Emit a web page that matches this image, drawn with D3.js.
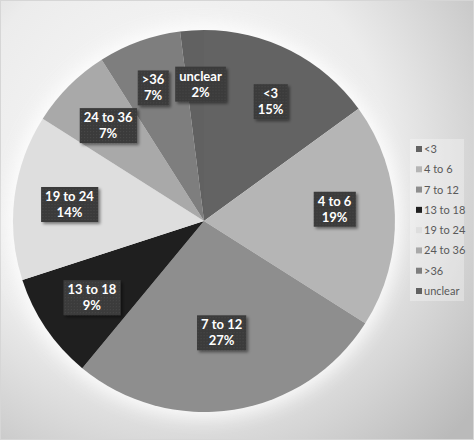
<!DOCTYPE html>
<html>
<head>
<meta charset="utf-8">
<script src="https://cdn.jsdelivr.net/npm/d3@7"></script>
<style>
  body { margin: 0; background: #fff; }
  svg { display: block; }
</style>
</head>
<body>
<svg id="chart"></svg>
<script>
// age groups (months) and their share in %
const categories = ["<3", "4 to 6", "7 to 12", "13 to 18", "19 to 24", "24 to 36", ">36", "unclear"];
const percents = [15, 19, 27, 9, 14, 7, 7, 2];
const sliceColors = ["#636363", "#b5b5b5", "#8e8e8e", "#1f1f1f", "#dedede", "#a9a9a9", "#7e7e7e", "#616161"];

const width = 474, height = 440;
const cx = 204, cy = 221, radius = 191;

const svg = d3.select("#chart")
  .attr("width", width)
  .attr("height", height);

const defs = svg.append("defs");

// background: light in the upper left, greyer towards the corners
const bg = defs.append("radialGradient")
  .attr("id", "bg")
  .attr("gradientUnits", "userSpaceOnUse")
  .attr("cx", 175).attr("cy", 160).attr("r", 390);
bg.append("stop").attr("offset", 0).attr("stop-color", "#fbfbfb");
bg.append("stop").attr("offset", 0.55).attr("stop-color", "#ececec");
bg.append("stop").attr("offset", 1).attr("stop-color", "#bababa");

const glow = defs.append("filter").attr("id", "glow")
  .attr("x", "-20%").attr("y", "-20%").attr("width", "140%").attr("height", "140%");
glow.append("feGaussianBlur").attr("stdDeviation", 9);

const shadow = defs.append("filter").attr("id", "shadow")
  .attr("x", "-30%").attr("y", "-30%").attr("width", "160%").attr("height", "160%");
shadow.append("feDropShadow")
  .attr("dx", 2).attr("dy", 2).attr("stdDeviation", 1.5)
  .attr("flood-color", "#000").attr("flood-opacity", 0.45);

// dotted texture used by the data label boxes
const dots = defs.append("pattern")
  .attr("id", "dots")
  .attr("patternUnits", "userSpaceOnUse")
  .attr("width", 3).attr("height", 3);
dots.append("rect").attr("width", 3).attr("height", 3).attr("fill", "#3b3b3b");
dots.append("rect").attr("width", 1).attr("height", 1).attr("fill", "#4a4a4a");

svg.append("rect")
  .attr("width", width).attr("height", height)
  .attr("fill", "url(#bg)");

svg.append("rect")
  .attr("x", 0.5).attr("y", 0.5)
  .attr("width", width - 1).attr("height", height - 1)
  .attr("fill", "none").attr("stroke", "#d6d6d6");

const g = svg.append("g").attr("transform", `translate(${cx},${cy})`);

// soft white halo behind the pie
g.append("circle")
  .attr("r", radius + 6)
  .attr("fill", "#fff")
  .attr("opacity", 0.85)
  .attr("filter", "url(#glow)");

const data = categories.map((c, i) => ({ name: c, value: percents[i] }));

const color = d3.scaleOrdinal()
  .domain(categories)
  .range(sliceColors);

const pie = d3.pie()
  .value(d => d.value)
  .sort(null);

const arc = d3.arc()
  .innerRadius(0)
  .outerRadius(radius);

const arcs = pie(data);

g.selectAll(".slice")
  .data(arcs)
  .enter().append("path")
  .attr("class", "slice")
  .attr("d", arc)
  .attr("fill", d => color(d.data.name));

// Excel "best fit" puts the big slice label a bit closer to the centre
// and pushes the two small top labels apart
const labelNudge = {
  "<3": [5, 1],
  "4 to 6": [-5, -8],
  ">36": [-5, -6],
  "unclear": [5, -2]
};
const labelPos = d => {
  const r = d.data.name === "7 to 12" ? radius * 0.59 : radius * 0.71;
  const [x, y] = d3.arc().innerRadius(r).outerRadius(r).centroid(d);
  const n = labelNudge[d.data.name] || [0, 0];
  return [x + n[0], y + n[1]];
};

const labels = g.selectAll(".label")
  .data(arcs)
  .enter().append("g")
  .attr("class", "label")
  .attr("transform", d => `translate(${labelPos(d)})`);

labels.each(function(d) {
  const lg = d3.select(this);
  const text = lg.append("text")
    .attr("text-anchor", "middle")
    .attr("font-family", "Lato, 'Open Sans', sans-serif")
    .attr("font-weight", "bold")
    .attr("font-size", 13)
    .attr("fill", "#fff");
  text.append("tspan").attr("x", 0).attr("y", -3).text(d.data.name);
  text.append("tspan").attr("x", 0).attr("y", 13).text(d.data.value + "%");
  const bb = text.node().getBBox();
  lg.insert("rect", "text")
    .attr("x", bb.x - 4)
    .attr("y", -17)
    .attr("width", bb.width + 8)
    .attr("height", 35)
    .attr("fill", "url(#dots)")
    .attr("filter", "url(#shadow)");
});

// legend
const legendY = d3.scalePoint()
  .domain(categories)
  .range([149, 291]);

const legend = svg.append("g");

legend.append("rect")
  .attr("x", 410).attr("y", 139)
  .attr("width", 54).attr("height", 162)
  .attr("fill", "#fff").attr("opacity", 0.3);

const items = legend.selectAll(".item")
  .data(categories)
  .enter().append("g")
  .attr("class", "item")
  .attr("transform", d => `translate(416,${legendY(d)})`);

items.append("rect")
  .attr("x", 0).attr("y", -3)
  .attr("width", 6).attr("height", 6)
  .attr("fill", d => color(d));

items.append("text")
  .attr("x", 8)
  .attr("y", 4)
  .attr("font-family", "Lato, 'Open Sans', sans-serif")
  .attr("font-size", 11)
  .attr("fill", "#595959")
  .text(d => d);
</script>
</body>
</html>
